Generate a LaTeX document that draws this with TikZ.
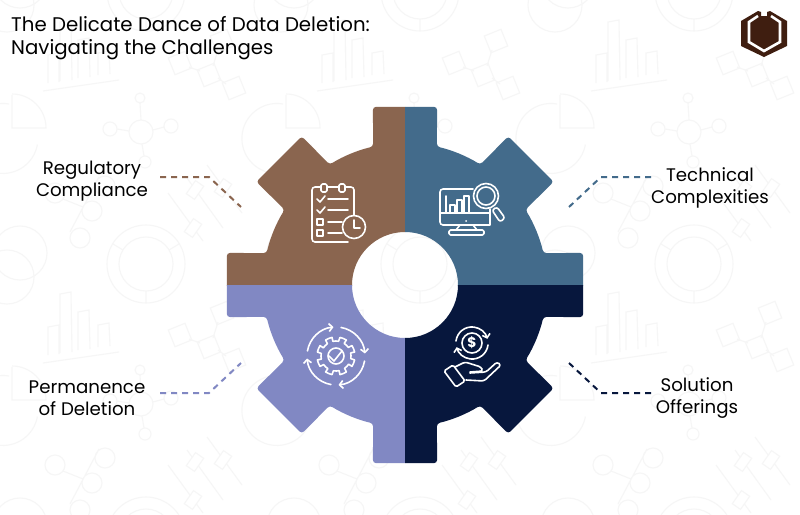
\documentclass[tikz,border=0pt]{standalone}
\usepackage{fontspec}
\setmainfont{Poppins}
\usetikzlibrary{arrows.meta}
\definecolor{brownq}{HTML}{8A654F}
\definecolor{blueq}{HTML}{436B8B}
\definecolor{lilacq}{HTML}{8188C3}
\definecolor{navyq}{HTML}{07173D}
\definecolor{logoc}{HTML}{3F1E10}
\definecolor{faintc}{HTML}{F6F6F6}
\tikzset{
    tilestyle/.style={draw=faintc, line width=1.1pt},
    labelstyle/.style={font=\fontsize{18.2}{22.5}\selectfont, align=center, text=black},
    leadstyle/.style={line width=2pt, dash pattern=on 6pt off 5pt},
    iconstyle/.style={draw=white, line width=1.6pt, line join=round, line cap=round},
    arrowstyle/.style={iconstyle, -{Straight Barb[length=3.5pt,width=8pt]}}
}
% one tile of the faint background
\newcommand{\bgtile}{
    \draw[tilestyle] (141,132) circle[radius=12] (110,129) circle[radius=7] (171,126) circle[radius=7]
        (140,98) circle[radius=5] (145,162) circle[radius=6]
        (117,129) -- (129,131) (153,130) -- (164,127) (140,103) -- (141,120) (142,144) -- (144,156);
    \draw[tilestyle] (12,95) -- (12,128) -- (46,128) arc[start angle=0, end angle=-90, radius=34];
    \draw[tilestyle] (9,104) arc[start angle=-80, end angle=-350, radius=35];
    \draw[tilestyle] (43,363) -- (119,352)
        (48,355) -- (48,327) -- (59,325) -- (59,354) (60,353) -- (60,294) -- (71,292) -- (72,352)
        (78,350) -- (78,312) -- (89,310) -- (90,349) (98,347) -- (98,325) -- (109,323) -- (110,346);
    \foreach \bx/\by in {180/335, 209/347, 234/360, 222/313}
        \draw[tilestyle, rotate around={22:(\bx,\by)}] (\bx-9,\by-9) rectangle (\bx+9,\by+9);
    \draw[tilestyle] (218,322) -- (213,338) (189,339) -- (200,343) (218,350) -- (226,356);
    \draw[tilestyle] (207,437) -- (242,485) (187,450) -- (223,500) (168,465) -- (203,513);
    \foreach \bx/\by in {223/460, 195/462, 193/500}
        \draw[tilestyle, fill=white, rotate around={-35:(\bx,\by)}] (\bx-5,\by-8) rectangle (\bx+5,\by+8);
    \draw[tilestyle] (55,465) circle[radius=10] (105,458) circle[radius=10] (92,483) circle[radius=10] (80,510) circle[radius=10]
        (63,471) -- (83,479) (70,504) -- (99,449);
    \draw[tilestyle] (7,277) circle[radius=27] (20,253) circle[radius=27];
    \draw[tilestyle] (146,264) circle[radius=39] (146,264) circle[radius=27]
        (146,291) -- (146,303) (123,250) -- (113,244) (169,250) -- (179,244);
}
\newcommand{\gearpath}{
    (-103:142) \foreach \ga in {-90,-45,...,225} {
        -- ({\ga-10.2}:181) -- ({\ga+10.2}:181) -- ({\ga+13}:142)
        arc[start angle={\ga+13}, end angle={\ga+32}, radius=142]
    } -- cycle
}
\newcommand{\gearquad}[5]{
    \begin{scope}
        \clip (#2,#3) rectangle (#4,#5);
        \fill[#1, even odd rule, rounded corners=3pt] \gearpath (0,0) circle[radius=53];
    \end{scope}
}

\begin{document}
\begin{tikzpicture}[x=1pt, y=-1pt]
    \clip (0,0) rectangle (800,514);
    \fill[white] (0,0) rectangle (800,514);
    \foreach \dx in {-274,0,274,548} \foreach \dy in {-272,0,272} {
        \begin{scope}[shift={(\dx,\dy)}] \bgtile \end{scope}
    }

    \node[anchor=west, inner sep=0pt, font=\fontsize{19.75}{23}\selectfont, align=left] (title) at (11,38.5) {The Delicate Dance of Data Deletion:\\Navigating the Challenges};

    % logo
    \fill[logoc] (741,21) -- (758,11) -- (761,12) -- (761,16) -- (767,16) -- (767,12) -- (770,11) -- (787,21) -- (787,46) -- (764,57) -- (741,46) -- cycle;
    \draw[white, line width=2.6pt] (758,16) -- (749,22) -- (749,42) -- (764,51) -- (780,42) -- (780,22) -- (771,16);

    % gear
    \begin{scope}[shift={(405,285)}]
        \gearquad{brownq}{-200}{-200}{0}{0}
        \gearquad{blueq}{0}{-200}{200}{0}
        \gearquad{lilacq}{-200}{0}{0}{200}
        \gearquad{navyq}{0}{0}{200}{200}
    \end{scope}

    % clipboard
    \draw[iconstyle] (348,242) -- (315,242) arc[start angle=90, end angle=180, radius=3] -- (312,190) arc[start angle=180, end angle=270, radius=3] -- (351,187) arc[start angle=-90, end angle=0, radius=3] -- (354,215);
    \foreach \tx in {324,342}
        \draw[iconstyle, fill=brownq, rounded corners=1.5pt] (\tx-3,184) rectangle (\tx+3,192);
    \foreach \ty in {199,210} {
        \draw[iconstyle] (317,\ty) -- (320,\ty+3) -- (325,\ty-3);
        \draw[iconstyle] (328,\ty) -- (348,\ty);
    }
    \foreach \ty in {222,233} {
        \draw[iconstyle] (317,\ty-3) rectangle (323,\ty+3);
        \draw[iconstyle] (328,\ty) -- (342,\ty);
    }
    \draw[iconstyle, fill=brownq] (354,227) circle[radius=11.5];
    \draw[iconstyle] (354,220) -- (354,228) -- (360,228);

    % monitor
    \draw[iconstyle] (473,189) -- (443,189) arc[start angle=-90, end angle=-180, radius=3] -- (440,222) arc[start angle=180, end angle=90, radius=3] -- (490,225) -- (490,209);
    \draw[iconstyle] (441,213) -- (490,213) (446,196) -- (446,213);
    \draw[iconstyle] (450,213) -- (450,205) -- (455,205) -- (455,213) (457,213) -- (457,200) -- (462,200) -- (462,213) (464,213) -- (464,196) -- (469,196) -- (469,213);
    \draw[iconstyle] (460,225) -- (456,230) (473,225) -- (477,230);
    \draw[iconstyle, rounded corners=1.5pt] (449,230) rectangle (484,235);
    \fill[white] (466,221) circle[radius=1];
    \draw[iconstyle, fill=blueq] (486,196) circle[radius=12.5];
    \draw[iconstyle] (486,196) circle[radius=9];
    \draw[iconstyle, rounded corners=2.5pt, fill=blueq] (492,210) -- (497,207) -- (505,218) -- (500,222) -- cycle;

    % gear with arrows
    \draw[iconstyle] (336,356) circle[radius=8];
    \draw[iconstyle] (329,356) -- (334,361) -- (342,351);
    \draw[iconstyle] (336,356) ++(-12:15) \foreach \ga in {0,45,...,315} {
        arc[start angle={\ga-12}, end angle={\ga+10}, radius=15] -- ({336+19*cos(\ga+12)},{356+19*sin(\ga+12)}) arc[start angle={\ga+12}, end angle={\ga+33}, radius=19] -- ({336+15*cos(\ga+33)},{356+15*sin(\ga+33)})
    };
    \foreach \ga in {-80,10,100,190}
        \draw[arrowstyle] ({336+29*cos(\ga)},{356+29*sin(\ga)}) arc[start angle=\ga, end angle={\ga+75}, radius=29];

    % money hand
    \draw[iconstyle] (472,343) circle[radius=10];
    \node[text=white, font=\fontsize{14}{14}\bfseries\selectfont, inner sep=0pt] (dollar) at (472,343) {\$};
    \draw[arrowstyle] (456,341) arc[start angle=187, end angle=345, radius=16];
    \draw[arrowstyle] (488,345) arc[start angle=7, end angle=165, radius=16];
    \draw[iconstyle, rounded corners=1.5pt] (444,371) -- (453,365) -- (465,381) -- (456,387) -- cycle;
    \draw[iconstyle, rounded corners=2.5pt] (455,367) -- (465,362) -- (481,367) -- (483,371) -- (470,372) (470,373) -- (486,372) -- (497,362) -- (501,365) -- (484,381) -- (466,380);

    % labels and leaders
    \node[labelstyle] (regulatory) at (92,181) {Regulatory\\Compliance};
    \node[labelstyle] (technical) at (710,188) {Technical\\Complexities};
    \node[labelstyle] (permanence) at (87,398) {Permanence\\of Deletion};
    \node[labelstyle] (solution) at (697,398) {Solution\\Offerings};
    \coordinate (rega) at (160,177); \coordinate (regb) at (209,177); \coordinate (regc) at (241,207);
    \coordinate (teca) at (651,177); \coordinate (tecb) at (601,177); \coordinate (tecc) at (569,207);
    \coordinate (pera) at (160,393); \coordinate (perb) at (209,393); \coordinate (perc) at (241,363);
    \coordinate (sola) at (651,393); \coordinate (solb) at (601,393); \coordinate (solc) at (569,363);
    \draw[leadstyle, brownq] (rega) -- (regb) -- (regc);
    \draw[leadstyle, blueq] (teca) -- (tecb) -- (tecc);
    \draw[leadstyle, lilacq] (pera) -- (perb) -- (perc);
    \draw[leadstyle, navyq] (sola) -- (solb) -- (solc);
\end{tikzpicture}
\end{document}
